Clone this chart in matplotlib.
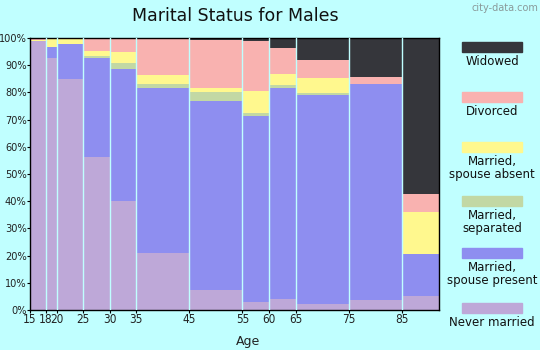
import matplotlib.pyplot as plt
from matplotlib.patches import Rectangle
from matplotlib.ticker import FuncFormatter

# --- data (percent of males in each age group) ---
AGE_EDGES = [15, 18, 20, 25, 30, 35, 45, 55, 60, 65, 75, 85, 92]
AGE_TICKS = [15, 18, 20, 25, 30, 35, 45, 55, 60, 65, 75, 85]
NEVER_MARRIED = [98.8, 92.6, 84.9, 56.3, 40.1, 21.0, 7.4, 2.9, 4.0, 2.2, 3.7, 5.1]
SPOUSE_PRESENT = [0.0, 4.0, 12.9, 36.3, 48.5, 60.6, 69.4, 68.4, 77.6, 76.8, 79.4, 15.5]
SEPARATED = [0.0, 0.0, 0.0, 0.9, 2.2, 1.4, 3.3, 1.1, 1.1, 0.8, 0.0, 0.0]
SPOUSE_ABSENT = [0.6, 3.4, 1.7, 1.7, 4.1, 3.4, 1.5, 8.1, 4.1, 5.5, 0.0, 15.4]
DIVORCED = [0.6, 0.0, 0.5, 4.8, 5.1, 13.6, 17.7, 18.4, 9.5, 6.6, 2.6, 6.6]
WIDOWED = [0.0, 0.0, 0.0, 0.0, 0.0, 0.0, 0.7, 1.1, 3.7, 8.1, 14.3, 57.4]

# --- style ---
BG = "#C0FFFF"
COLORS = {
    "Never married": "#BEA8D8",
    "Married,\nspouse present": "#8E8EF0",
    "Married,\nseparated": "#C2D8A4",
    "Married,\nspouse absent": "#FFF88E",
    "Divorced": "#F9B2B0",
    "Widowed": "#35363B",
}
SERIES = [
    ("Never married", NEVER_MARRIED),
    ("Married,\nspouse present", SPOUSE_PRESENT),
    ("Married,\nseparated", SEPARATED),
    ("Married,\nspouse absent", SPOUSE_ABSENT),
    ("Divorced", DIVORCED),
    ("Widowed", WIDOWED),
]
TICK_FONT = ["DejaVu Sans"]

fig = plt.figure(figsize=(5.4, 3.5), dpi=100, facecolor=BG)
ax = fig.add_axes([30 / 540, 40 / 350, 409 / 540, 272 / 350])
ax.set_facecolor(BG)

lefts = AGE_EDGES[:-1]
widths = [b - a for a, b in zip(AGE_EDGES[:-1], AGE_EDGES[1:])]
bottom = [0.0] * len(lefts)
for name, vals in SERIES:
    ax.bar(lefts, vals, width=widths, bottom=bottom, align="edge",
           color=COLORS[name], edgecolor="none", linewidth=0)
    bottom = [b + v for b, v in zip(bottom, vals)]
# thin separators between age groups
for e in AGE_EDGES[1:-1]:
    ax.axvline(e, color=BG, linewidth=1.0, zorder=3)

ax.set_xlim(AGE_EDGES[0], AGE_EDGES[-1])
ax.set_ylim(0, 100)
ax.set_xticks(AGE_TICKS)
ax.set_xticklabels([str(t) for t in AGE_TICKS], family=TICK_FONT, fontstretch="condensed",
                   fontsize=8.5, color="#222222")
ax.set_yticks(range(0, 101, 10))
ax.yaxis.set_major_formatter(FuncFormatter(lambda v, p: f"{int(v)}%"))
for lab in ax.get_yticklabels():
    lab.set_family(TICK_FONT)
    lab.set_fontstretch("condensed")
    lab.set_fontsize(7.8)
    lab.set_color("#222222")
ax.tick_params(axis="both", length=2, width=0.8, pad=0.5)
for s in ax.spines.values():
    s.set_color("black")
    s.set_linewidth(1.0)

fig.text(235 / 540, 1 - 16 / 350, "Marital Status for Males", ha="center", va="center",
         fontsize=12.5, color="#111111")
fig.text(248 / 540, 1 - 341 / 350, "Age", ha="center", va="center", fontsize=9, color="#222222")
fig.text(538 / 540, 1 - 8 / 350, "city-data.com", ha="right", va="center", fontsize=7, color="#8A9A9A")

# legend on the right
legend_y = [47, 97, 147, 201, 253, 308]  # patch centres, px from top
for (name, _), y in zip(SERIES[::-1], legend_y):
    fig.patches.append(Rectangle((462 / 540, 1 - (y + 5) / 350), 60 / 540, 10 / 350,
                                 transform=fig.transFigure, color=COLORS[name]))
    fig.text(492 / 540, 1 - (y + 8) / 350, name, ha="center", va="top", fontsize=8.5,
             color="#111111", linespacing=1.0)

fig.savefig("out.png", dpi=100, facecolor=BG)
